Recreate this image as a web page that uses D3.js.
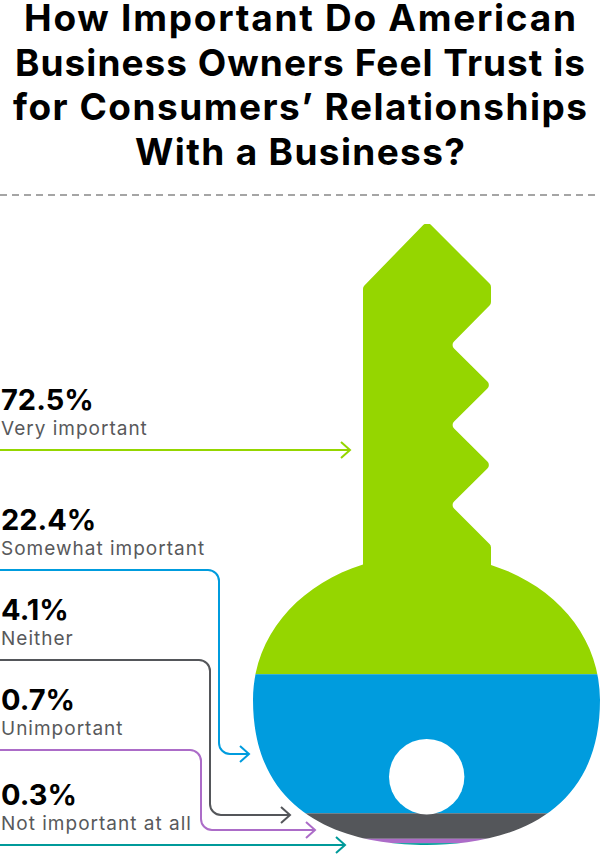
<!DOCTYPE html>
<html>
<head>
<meta charset="utf-8">
<script src="https://cdn.jsdelivr.net/npm/d3@7"></script>
<style>
  body { margin: 0; background: #fff; }
  svg { display: block; font-family: Inter, "Open Sans", sans-serif; }
</style>
</head>
<body>
<svg id="chart" width="600" height="855"></svg>
<script>
const titleLines = ['How Important Do American', 'Business Owners Feel Trust is', 'for Consumers’ Relationships', 'With a Business?']
const categories = ['Very important', 'Somewhat important', 'Neither', 'Unimportant', 'Not important at all']
const values = [72.5, 22.4, 4.1, 0.7, 0.3]
const colors = ['#95d600', '#009cde', '#54565a', '#ac6cc8', '#009a9a']

const svg = d3.select('#chart')
const W = 600

// key is filled top to bottom, 0% at the tip and 100% at the bottom of the head
const y = d3.scaleLinear().domain([0, 100]).range([224, 845])
const colorScale = d3.scaleOrdinal().domain(categories).range(colors)

const row = Object.fromEntries(categories.map((c, i) => [c, values[i]]))
const stacked = d3.stack().keys(categories)([row])

// title, each line stretched to the width it has in the original
const titleWidths = [552, 570, 574, 330]
svg.append('g').selectAll('text')
  .data(titleLines)
  .enter()
  .append('text')
  .attr('x', W / 2)
  .attr('y', (d, i) => 31 + i * 44.5)
  .attr('text-anchor', 'middle')
  .attr('font-size', 37)
  .attr('font-weight', 700)
  .attr('textLength', (d, i) => titleWidths[i])
  .attr('lengthAdjust', 'spacing')
  .attr('fill', '#000')
  .text(d => d)

svg.append('line')
  .attr('x1', 0).attr('x2', W)
  .attr('y1', 195).attr('y2', 195)
  .attr('stroke', '#888')
  .attr('stroke-width', 1.5)
  .attr('stroke-dasharray', '7 5')

// rounded polygon for the blade of the key
const blade = [
  [363, 287], [427, 221], [491, 285], [491, 304], [450.5, 345], [491, 385], [450.5, 425],
  [491, 465], [450.5, 505], [491, 545.5], [491, 600], [363, 600]
]
const bladePath = d3.path()
bladePath.moveTo(363, 600)
blade.forEach((p, i) => {
  const next = blade[(i + 1) % blade.length]
  if (i >= 10) bladePath.lineTo(p[0], p[1])
  else bladePath.arcTo(p[0], p[1], next[0], next[1], 5)
})
bladePath.closePath()

// head of the key, top half is nearly an ellipse and the bottom half is fuller
const cx = 426.5, cy = 700, rx = 173.5, ry = 145
const headPath = d3.path()
headPath.moveTo(cx + rx, cy)
headPath.bezierCurveTo(cx + rx, cy + 0.85 * ry, cx + 0.4 * rx, cy + ry, cx, cy + ry)
headPath.bezierCurveTo(cx - 0.4 * rx, cy + ry, cx - rx, cy + 0.85 * ry, cx - rx, cy)
headPath.bezierCurveTo(cx - rx, cy - 0.58 * ry, cx - 0.55 * rx, cy - ry, cx, cy - ry)
headPath.bezierCurveTo(cx + 0.55 * rx, cy - ry, cx + rx, cy - 0.58 * ry, cx + rx, cy)
headPath.closePath()

const clip = svg.append('defs').append('clipPath').attr('id', 'keyClip')
clip.append('path').attr('d', bladePath.toString())
clip.append('path').attr('d', headPath.toString())

svg.append('g')
  .attr('clip-path', 'url(#keyClip)')
  .selectAll('rect')
  .data(stacked)
  .enter()
  .append('rect')
  .attr('x', 240)
  .attr('width', 360)
  .attr('y', d => y(d[0][0]))
  .attr('height', d => y(d[0][1]) - y(d[0][0]))
  .attr('fill', d => colorScale(d.key))

svg.append('circle')
  .attr('cx', 426.7).attr('cy', 776.7).attr('r', 37.7)
  .attr('fill', '#fff')

// labels and connectors
const labelY = [410, 530, 620, 710, 805]
const connectors = [
  { y0: 450, x: null, y1: 450, tip: 350 },
  { y0: 570, x: 219, y1: 754, tip: 249 },
  { y0: 660, x: 210, y1: 815, tip: 290 },
  { y0: 750, x: 201, y1: 830, tip: 315 },
  { y0: 845, x: null, y1: 845, tip: 345 }
]

categories.forEach((c, i) => {
  const g = svg.append('g')
  g.append('text')
    .attr('x', 1).attr('y', labelY[i])
    .attr('font-size', 29).attr('font-weight', 700).attr('fill', '#000')
    .text(d3.format('.1f')(values[i]) + '%')
  g.append('text')
    .attr('x', 1).attr('y', labelY[i] + 25)
    .attr('font-size', 19).attr('font-weight', 400).attr('letter-spacing', 1)
    .attr('fill', '#58595b')
    .text(c)

  const k = connectors[i]
  const p = d3.path()
  p.moveTo(0, k.y0)
  if (k.x !== null) {
    p.arcTo(k.x, k.y0, k.x, k.y1, 11)
    p.arcTo(k.x, k.y1, k.tip, k.y1, 11)
  }
  p.lineTo(k.tip, k.y1)
  p.moveTo(k.tip - 9, k.y1 - 8)
  p.lineTo(k.tip, k.y1)
  p.lineTo(k.tip - 9, k.y1 + 8)
  g.append('path')
    .attr('d', p.toString())
    .attr('fill', 'none')
    .attr('stroke', colorScale(c))
    .attr('stroke-width', 2)
})
</script>
</body>
</html>
